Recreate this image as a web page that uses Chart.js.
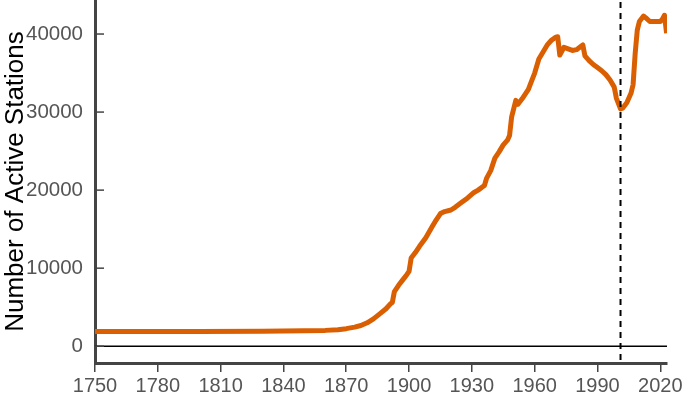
<!DOCTYPE html>
<html>
<head>
<meta charset="utf-8">
<script src="https://cdn.jsdelivr.net/npm/chart.js@4.4.1/dist/chart.umd.min.js"></script>
<style>
  html, body { margin: 0; padding: 0; background: #fff; }
  #wrap { width: 685px; height: 398px; }
</style>
</head>
<body>
<div id="wrap"><canvas id="graph"></canvas></div>
<script>
const years = [1750, 1800, 1830, 1850, 1860, 1866, 1870, 1874, 1877, 1880,
  1883, 1886, 1889, 1891, 1892, 1893, 1895, 1897, 1899, 1900,
  1901, 1903, 1905, 1908, 1911, 1913, 1915, 1917, 1920, 1922,
  1925, 1928, 1931, 1933, 1935, 1936, 1937, 1939, 1941, 1943,
  1945, 1947, 1948, 1949, 1951, 1952, 1954, 1957, 1958, 1960,
  1962, 1964, 1966, 1968, 1970, 1971, 1972, 1974, 1976, 1978,
  1980, 1982, 1983, 1984, 1986, 1988, 1990, 1992, 1994, 1996,
  1998, 1999, 2001, 2002, 2004, 2006, 2007, 2008, 2009, 2010,
  2012, 2013, 2015, 2018, 2020, 2021, 2022, 2023]
const stations = [1900, 1900, 1920, 1970, 2030, 2120, 2250, 2450, 2650, 3000,
  3500, 4150, 4800, 5400, 5600, 7000, 7800, 8500, 9200, 9600,
  11300, 12000, 12800, 13900, 15300, 16200, 17000, 17250, 17450, 17800,
  18400, 19000, 19700, 20000, 20400, 20600, 21500, 22500, 24100, 24900,
  25800, 26400, 27000, 29400, 31500, 31000, 31700, 32900, 33600, 35000,
  36800, 37700, 38600, 39200, 39600, 39650, 37300, 38300, 38100, 37900,
  38000, 38400, 38600, 37200, 36600, 36100, 35700, 35300, 34800, 34100,
  33200, 31800, 30400, 30500, 31200, 32400, 33500, 37500, 40500, 41600,
  42300, 42100, 41600, 41600, 41600, 41900, 42400, 40100]
const xTicks = [1750, 1780, 1810, 1840, 1870, 1900, 1930, 1960, 1990, 2020]
const yTicks = [0, 10000, 20000, 30000, 40000]
const markYear = 2001

const FONT = '"Liberation Sans", Arial, sans-serif'
const AXIS = '#444444'

// zero line, dashed marker and inward y ticks
const extras = {
  id: 'extras',
  afterDatasetsDraw(chart) {
    const {ctx, chartArea, scales: {x, y}} = chart
    ctx.save()
    ctx.strokeStyle = '#000'
    ctx.lineWidth = 1.5
    let y0 = y.getPixelForValue(0)
    ctx.beginPath()
    ctx.moveTo(chartArea.left, y0)
    ctx.lineTo(chartArea.right, y0)
    ctx.stroke()

    let xm = x.getPixelForValue(markYear)
    ctx.lineWidth = 2
    ctx.setLineDash([6, 5])
    ctx.beginPath()
    ctx.moveTo(xm, chartArea.top + 2)
    ctx.lineTo(xm, chartArea.bottom)
    ctx.stroke()
    ctx.setLineDash([])

    ctx.strokeStyle = AXIS
    ctx.lineWidth = 1.5
    yTicks.forEach(v => {
      let py = y.getPixelForValue(v)
      ctx.beginPath()
      ctx.moveTo(chartArea.left, py)
      ctx.lineTo(chartArea.left + 9, py)
      ctx.stroke()
    })
    ctx.restore()
  }
}

new Chart(document.getElementById('graph'), {
  type: 'line',
  data: {
    datasets: [{
      data: years.map((yr, i) => ({x: yr, y: stations[i]})),
      borderColor: '#d95f02',
      borderWidth: 5,
      pointRadius: 0,
      tension: 0,
      borderJoinStyle: 'round',
      borderCapStyle: 'butt'
    }]
  },
  options: {
    responsive: true,
    maintainAspectRatio: false,
    animation: false,
    layout: { padding: { top: 0, right: 18, bottom: 0, left: 0 } },
    plugins: { legend: { display: false }, tooltip: { enabled: false } },
    scales: {
      x: {
        type: 'linear',
        min: 1750,
        max: 2023.2,
        afterBuildTicks: s => { s.ticks = xTicks.map(v => ({value: v})) },
        afterFit: s => { s.height = 35 },
        grid: { display: true, drawOnChartArea: false, tickLength: 9, lineWidth: 1.5, color: AXIS },
        border: { display: true, color: AXIS, width: 3 },
        ticks: {
          color: '#555',
          padding: 2,
          maxRotation: 0,
          font: { family: FONT, size: 20 },
          callback: v => String(v)
        }
      },
      y: {
        min: -2150,
        max: 44360,
        afterBuildTicks: s => { s.ticks = yTicks.map(v => ({value: v})) },
        afterFit: s => { s.width = 95; s.paddingTop = 0; s.paddingBottom = 0 },
        grid: { display: false },
        border: { display: true, color: AXIS, width: 3 },
        ticks: {
          color: '#555',
          padding: 4,
          font: { family: FONT, size: 20.5 },
          callback: v => String(v)
        },
        title: {
          display: true,
          text: 'Number of Active Stations',
          color: '#000',
          padding: 0,
          font: { family: FONT, size: 26 }
        }
      }
    }
  },
  plugins: [extras]
})
</script>
</body>
</html>
